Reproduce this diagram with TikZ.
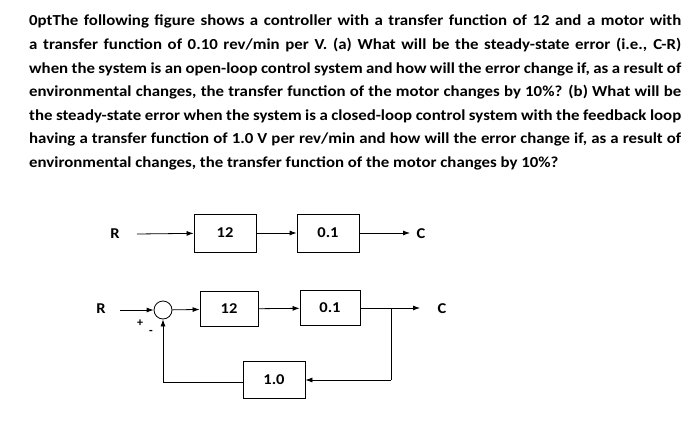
\documentclass[tikz,border=0pt]{standalone}
\usepackage{fontspec}
\setmainfont{Carlito}
\newfontfamily\para[FakeStretch=1.1]{Carlito}
\usetikzlibrary{arrows.meta}
\begin{document}
\begin{tikzpicture}[x=1pt,y=-1pt,
  blk/.style={draw,line width=0.8pt,minimum width=62pt,minimum height=38pt,font=\para\bfseries\fontsize{15}{18}\selectfont},
  lbl/.style={font=\para\bfseries\fontsize{15}{17}\selectfont},
  conn/.style={line width=0.8pt,-{Latex[length=7pt,width=5pt]}},
  ln/.style={line width=0.8pt}]
\useasboundingbox (0,0) rectangle (700,447);
\node[anchor=north west,text width=652pt,align=justify,inner sep=0pt,font=\para\bfseries\fontsize{15.3}{23.6}\selectfont\hyphenpenalty=10000\exhyphenpenalty=10000\emergencystretch=20pt] (txt) at (29,15)
{The following figure shows a controller with a transfer function of 12 and a motor with a transfer function of 0.10 rev/min per V. (a) What will be the steady-state error (i.e., C-R) when the system is an open-loop control system and how will the error change if, as a result of environmental changes, the transfer function of the motor changes by 10\%? (b) What will be the steady-state error when the system is a closed-loop control system with the feedback loop having a transfer function of 1.0 V per rev/min and how will the error change if, as a result of environmental changes, the transfer function of the motor changes by 10\%?};
% open loop
\node[lbl] (r1) at (115,234) {R};
\coordinate (r1s) at (137,234);
\node[blk] (a1) at (225,233) {12};
\node[blk] (b1) at (328,233) {0.1};
\coordinate (c1e) at (410,233);
\node[lbl,anchor=west] (c1) at (413,234) {C};
\draw[conn] (r1s) -- (a1);
\draw[conn] (a1) -- (b1);
\draw[conn] (b1) -- (c1e);
% closed loop
\node[lbl] (r2) at (101,309) {R};
\coordinate (r2s) at (120,310);
\node[draw,circle,line width=0.8pt,minimum size=18pt,inner sep=0pt] (s) at (163,310) {};
\node[blk,minimum width=58pt,minimum height=35pt] (a2) at (229,309) {12};
\node[blk,minimum width=60pt,minimum height=35pt] (b2) at (330,308) {0.1};
\coordinate (br) at (391,308);
\coordinate (c2e) at (420,308);
\node[lbl,anchor=west] (c2) at (434,309) {C};
\node[blk,minimum width=62pt,minimum height=37pt] (f) at (274,380) {1.0};
\coordinate (fr) at (391,380);
\coordinate (fl) at (163,382);
\node[lbl,font=\bfseries\fontsize{12}{14}\selectfont] (plus) at (140,323) {+};
\node[lbl,font=\bfseries\fontsize{12}{14}\selectfont] (minus) at (151,332) {-};
\draw[conn] (r2s) -- (s);
\draw[conn] (s) -- (a2);
\draw[conn] (a2) -- (b2);
\draw[conn] (b2) -- (c2e);
\draw[ln] (br) -- (fr);
\draw[conn] (fr) -- (f);
\draw[ln] (f.west |- fl) -- (fl);
\draw[conn] (fl) -- (s);
\end{tikzpicture}
\end{document}
